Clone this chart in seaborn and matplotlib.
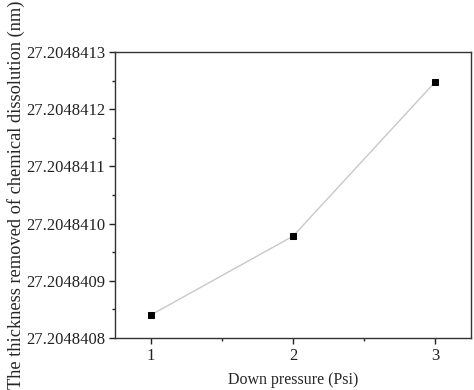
import numpy as np
import pandas as pd
import seaborn as sns
from matplotlib import pyplot as plt
from matplotlib.ticker import FormatStrFormatter, FixedLocator

# Data
pressure = [1, 2, 3]
thickness = [27.20484084, 27.204840978, 27.204841248]
x_ticks = [1, 2, 3]
y_ticks = [27.2048408, 27.2048409, 27.2048410, 27.2048411, 27.2048412, 27.2048413]

df = pd.DataFrame({'pressure': pressure, 'thickness': thickness})

sns.set_theme(style="ticks")
plt.rcParams['font.family'] = ['Liberation Serif', 'DejaVu Serif']

fig = plt.figure(figsize=(4.74, 3.9), dpi=100)
ax = fig.add_axes([0.2426, 0.1333, 0.7511, 0.7334])

sns.lineplot(x='pressure', y='thickness', data=df, ax=ax,
             color='#c8c8c8', linewidth=1.0, marker='s', markersize=4.5,
             markerfacecolor='black', markeredgecolor='black')

ax.set_xlim(0.75, 3.25)
ax.set_ylim(y_ticks[0], y_ticks[-1])
ax.xaxis.set_major_locator(FixedLocator(x_ticks))
ax.xaxis.set_minor_locator(FixedLocator([1.5, 2.5]))
ax.yaxis.set_major_locator(FixedLocator(y_ticks))
ax.yaxis.set_minor_locator(FixedLocator([(a + b) / 2 for a, b in zip(y_ticks[:-1], y_ticks[1:])]))
ax.yaxis.set_major_formatter(FormatStrFormatter('%.7f'))

for s in ax.spines.values():
    s.set_color('#333333')
    s.set_linewidth(1.0)

ax.tick_params(which='major', direction='out', length=4, width=1, labelsize=12,
               colors='#222222', top=False, right=False, pad=3)
ax.tick_params(which='minor', direction='out', length=2, width=1, top=False, right=False)

ax.set_xlabel('Down pressure (Psi)', fontsize=11.5)
ax.set_ylabel('The thickness removed of chemical dissolution (nm)', fontsize=13.2)
ax.xaxis.labelpad = 6
ax.yaxis.labelpad = 1

plt.savefig('out.png', dpi=100)
